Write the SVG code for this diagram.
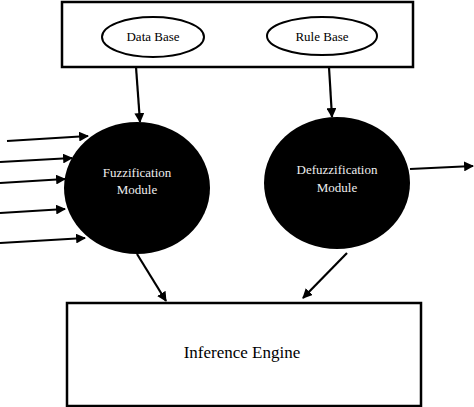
<svg xmlns="http://www.w3.org/2000/svg" width="474" height="407" viewBox="0 0 474 407">
<style>
.box{fill:#fff;stroke:#000;stroke-width:2.5}
.ell{fill:#fff;stroke:#000;stroke-width:2}
.blk{fill:#000}
.t{font-family:"Liberation Serif","Times New Roman",serif;font-size:13px;text-anchor:middle;fill:#000}
.w{fill:#eee}
.c line{stroke:#000;stroke-width:2.2;marker-end:url(#ah)}
</style>
<defs>
<marker id="ah" viewBox="0 0 10 10" refX="9" refY="5" markerWidth="4.5" markerHeight="4.5" orient="auto" markerUnits="strokeWidth">
<path d="M0,0 L10,5 L0,10 z" fill="#000"/>
</marker>
</defs>
<g id="knowledge">
<rect class="box" x="62" y="2" width="351" height="65"/>
</g>
<g id="database">
<ellipse class="ell" cx="153" cy="37" rx="51" ry="20"/>
<text class="t" x="153" y="41">Data Base</text>
</g>
<g id="rulebase">
<ellipse class="ell" cx="322" cy="36" rx="55" ry="19"/>
<text class="t" x="322" y="41">Rule Base</text>
</g>
<g id="fuzzification">
<ellipse class="blk" cx="137" cy="188" rx="73" ry="66"/>
<text class="t w" x="137" y="177">Fuzzification</text>
<text class="t w" x="137" y="194">Module</text>
</g>
<g id="defuzzification">
<ellipse class="blk" cx="337" cy="183" rx="73" ry="66"/>
<text class="t w" x="337" y="174">Defuzzification</text>
<text class="t w" x="337" y="192">Module</text>
</g>
<g id="inference">
<rect class="box" x="67" y="303" width="354" height="103"/>
<text class="t" x="242" y="358" style="font-size:17px">Inference Engine</text>
</g>
<g class="c" id="connectors">
<line x1="136" y1="67" x2="140" y2="122"/>
<line x1="329" y1="67" x2="332" y2="117"/>
<line x1="7" y1="141" x2="88" y2="136"/>
<line x1="0" y1="162" x2="72" y2="158"/>
<line x1="0" y1="183" x2="65" y2="179"/>
<line x1="0" y1="213" x2="65" y2="209"/>
<line x1="0" y1="243" x2="85" y2="238"/>
<line x1="137" y1="254" x2="166" y2="301"/>
<line x1="347" y1="253" x2="303" y2="298"/>
<line x1="410" y1="169" x2="473" y2="166"/>
</g>
</svg>
